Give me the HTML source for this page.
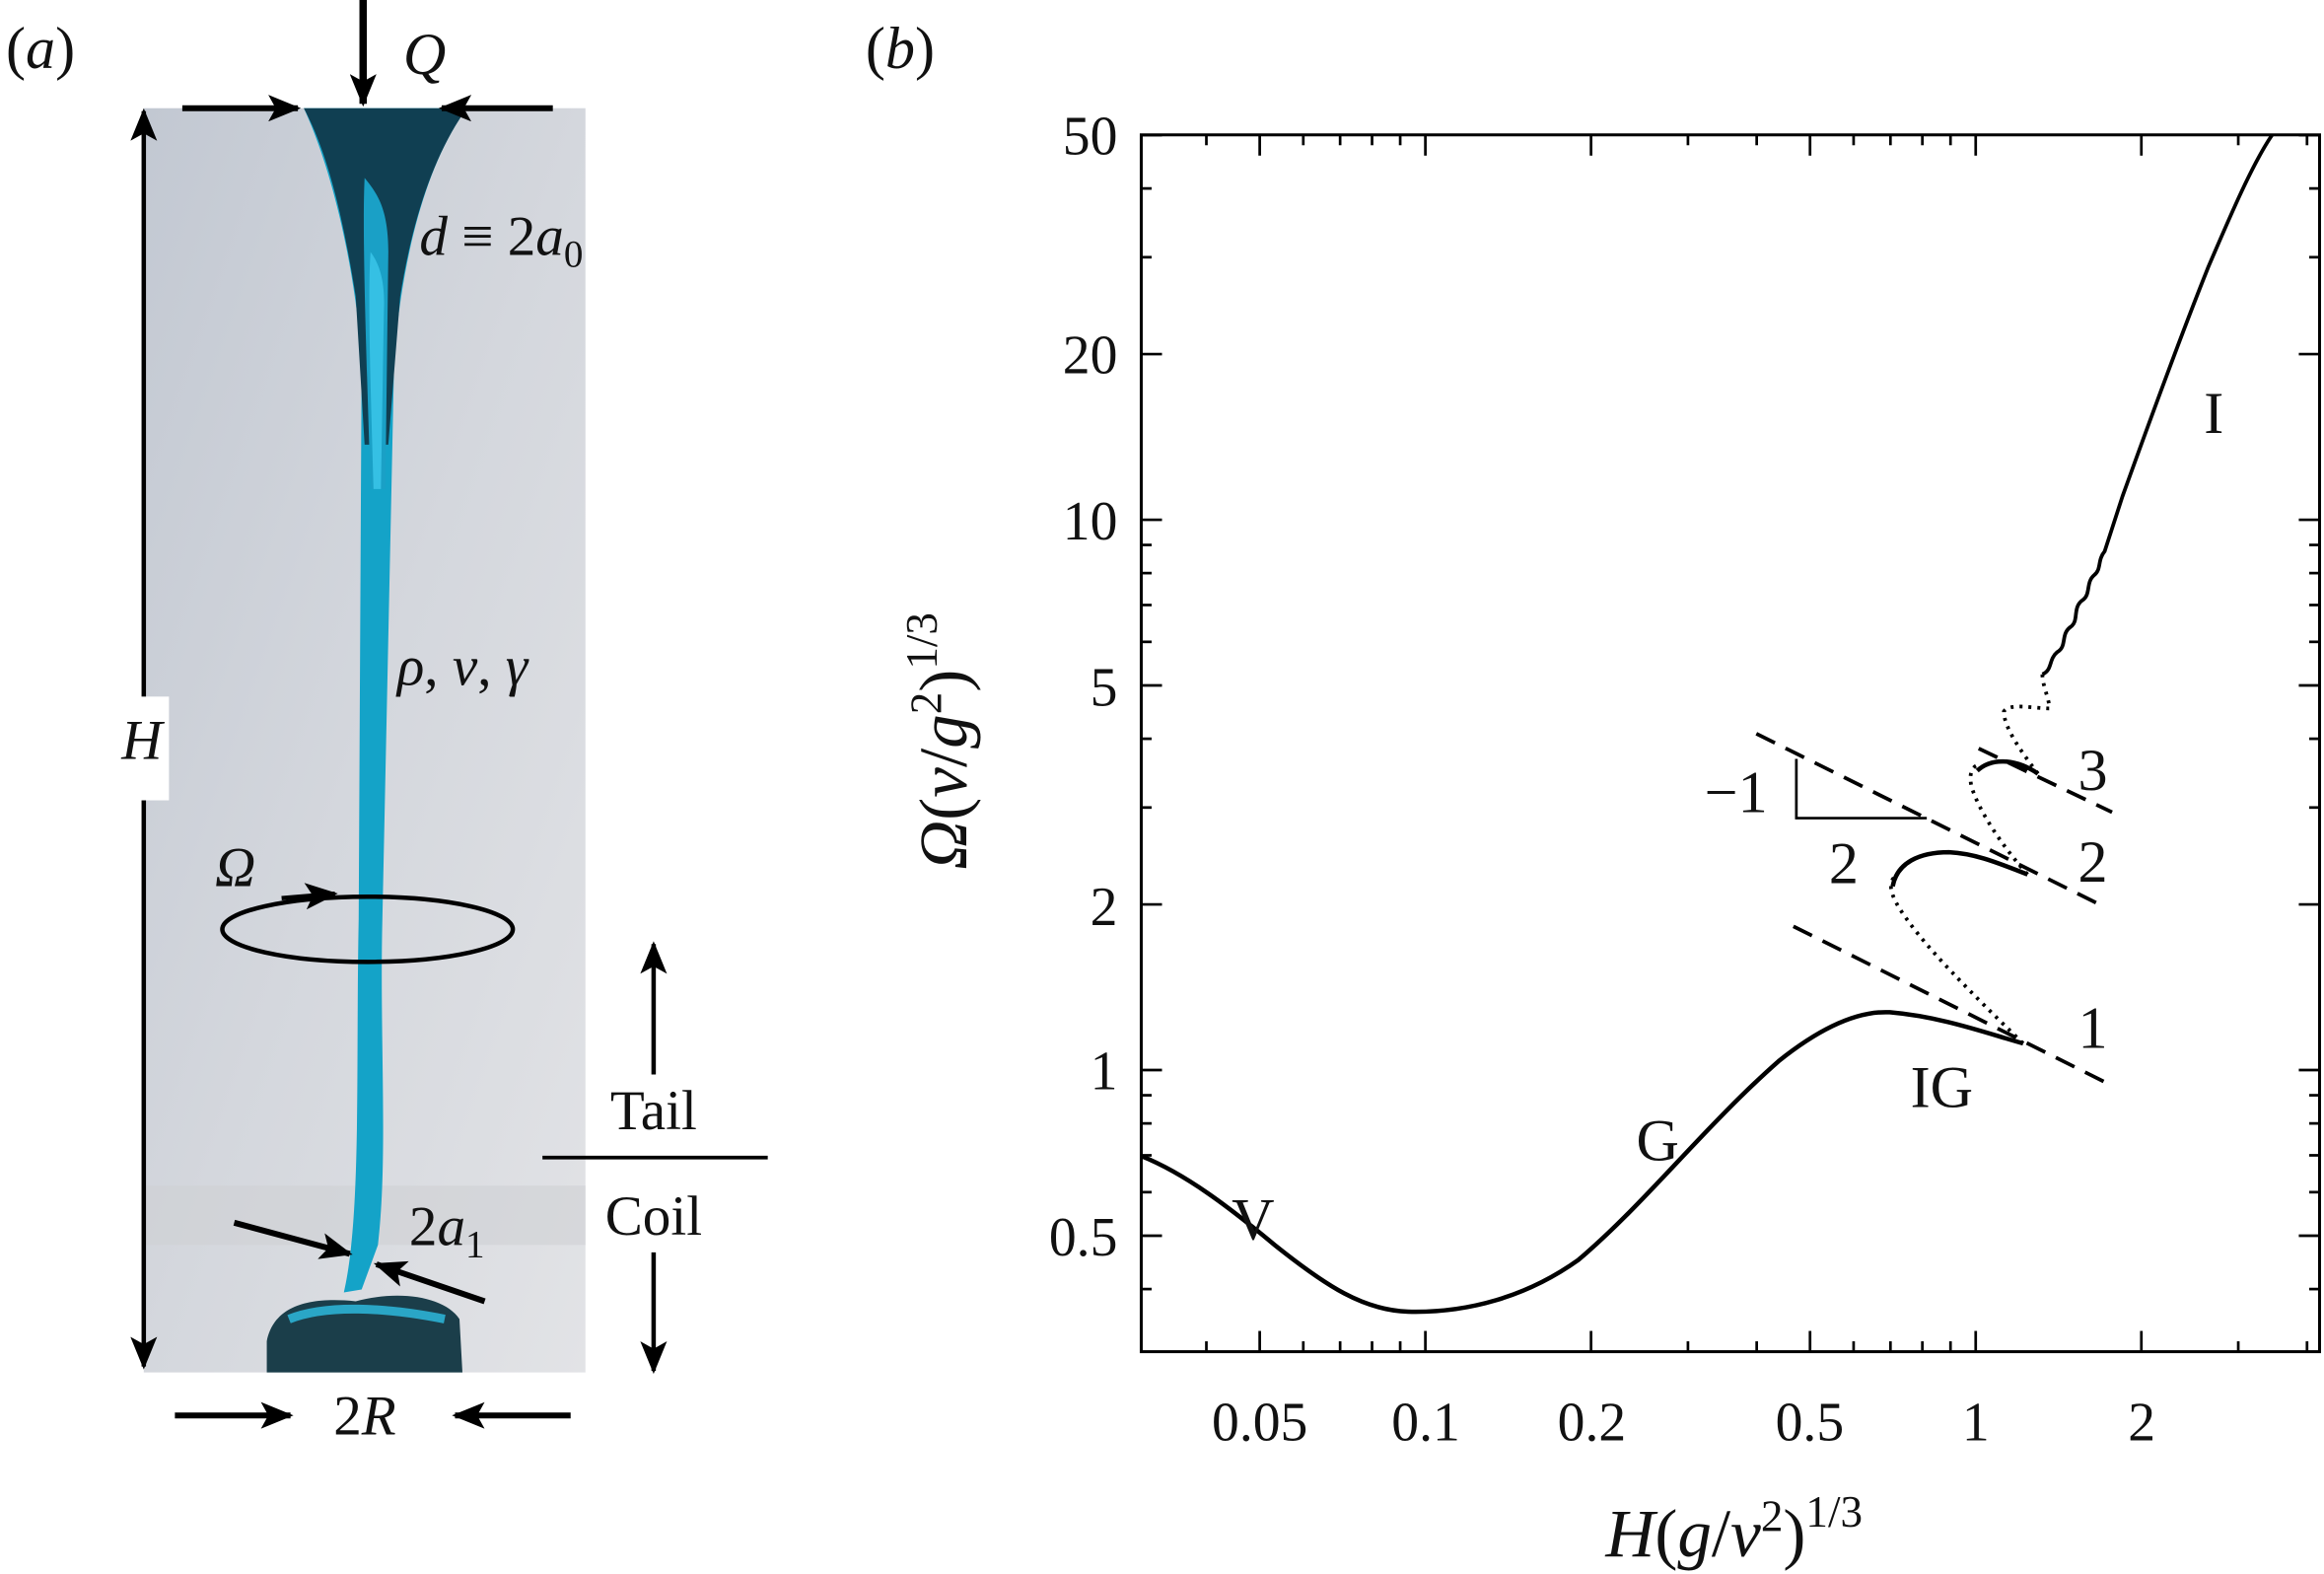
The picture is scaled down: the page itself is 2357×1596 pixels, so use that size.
<!DOCTYPE html>
<html><head><meta charset="utf-8"><style>
html,body{margin:0;padding:0;background:#fff;}
svg{display:block;}
text{font-family:"Liberation Serif",serif;fill:#111;}
</style></head><body>
<svg id="s" width="2357" height="1596" viewBox="0 0 1568 1062" preserveAspectRatio="none" xmlns="http://www.w3.org/2000/svg">
<defs>
<linearGradient id="bg" x1="0" y1="0" x2="1" y2="1">
<stop offset="0" stop-color="#c2c8d2"/><stop offset="0.5" stop-color="#d4d7dd"/><stop offset="1" stop-color="#e2e3e6"/></linearGradient>
<marker id="ah" markerWidth="22" markerHeight="18" refX="20" refY="9" orient="auto" markerUnits="userSpaceOnUse">
<path d="M0,0 L22,9 L0,18 L5,9 Z" fill="#000"/></marker>
</defs>
<text x="4" y="46" font-size="40">(<tspan font-style="italic">a</tspan>)</text>
<text x="584" y="46" font-size="40">(<tspan font-style="italic">b</tspan>)</text>
<!-- photo -->
<rect x="97" y="73" width="298" height="853" fill="url(#bg)"/>
<rect x="97" y="800" width="298" height="40" fill="#cfd1d4" opacity="0.6"/>
<path d="M205,73 L315,73 C288,110 272,170 266,240 L258,620 C256,700 262,780 255,840 L244,870 L232,872 C244,820 240,720 242,620 L244,240 C238,170 222,110 205,73 Z" fill="#14a3c8"/>
<path d="M205,73 L315,73 C292,105 278,150 270,200 L262,300 L246,300 L240,200 C232,150 222,105 205,73Z" fill="#103f52"/>
<path d="M246,120 C254,130 262,140 262,170 L260,330 L250,330 C248,260 244,160 246,120Z" fill="#1aa0c6"/>
<path d="M250,170 C256,178 260,190 259,210 L257,330 L252,330 C250,260 248,200 250,170Z" fill="#35c0e4"/>
<path d="M180,905 C185,880 210,875 240,878 C270,870 300,875 310,890 L312,926 L180,926Z" fill="#1b3e4a"/>
<path d="M195,890 C220,880 260,882 300,890" stroke="#2aa6c6" stroke-width="6" fill="none"/>
<!-- annotations a -->
<line x1="245" y1="0" x2="245" y2="70" stroke="#000" stroke-width="5" marker-end="url(#ah)"/>
<text x="272" y="50" font-size="40" font-style="italic">Q</text>
<line x1="123" y1="73" x2="201" y2="73" stroke="#000" stroke-width="4" marker-end="url(#ah)"/>
<line x1="373" y1="73" x2="298" y2="73" stroke="#000" stroke-width="4" marker-end="url(#ah)"/>
<line x1="97" y1="540" x2="97" y2="75" stroke="#000" stroke-width="3" marker-end="url(#ah)"/>
<line x1="97" y1="540" x2="97" y2="922" stroke="#000" stroke-width="3" marker-end="url(#ah)"/>
<rect x="80" y="470" width="34" height="70" fill="#fff"/>
<text x="82" y="512" font-size="38" font-style="italic">H</text>
<text x="283" y="172" font-size="38" font-style="italic">d <tspan font-style="normal">≡ 2</tspan>a<tspan font-size="26" dy="8" font-style="normal">0</tspan></text>
<text x="268" y="462" font-size="38" font-style="italic">ρ<tspan font-style="normal">, </tspan>ν<tspan font-style="normal">, </tspan>γ</text>
<text x="145" y="598" font-size="38" font-style="italic">Ω</text>
<ellipse cx="248" cy="627" rx="98" ry="22" fill="none" stroke="#000" stroke-width="3"/>
<line x1="190" y1="606" x2="226" y2="603" stroke="#000" stroke-width="3" marker-end="url(#ah)"/>
<line x1="158" y1="825" x2="236" y2="846" stroke="#000" stroke-width="4" marker-end="url(#ah)"/>
<line x1="327" y1="878" x2="254" y2="853" stroke="#000" stroke-width="4" marker-end="url(#ah)"/>
<text x="276" y="840" font-size="38">2<tspan font-style="italic">a</tspan><tspan font-size="26" dy="8">1</tspan></text>
<line x1="118" y1="955" x2="196" y2="955" stroke="#000" stroke-width="4" marker-end="url(#ah)"/>
<line x1="385" y1="955" x2="307" y2="955" stroke="#000" stroke-width="4" marker-end="url(#ah)"/>
<text x="225" y="968" font-size="38">2<tspan font-style="italic">R</tspan></text>
<line x1="441" y1="725" x2="441" y2="637" stroke="#000" stroke-width="3" marker-end="url(#ah)"/>
<line x1="441" y1="845" x2="441" y2="925" stroke="#000" stroke-width="3" marker-end="url(#ah)"/>
<text x="441" y="762" font-size="38" text-anchor="middle">Tail</text>
<line x1="366" y1="781" x2="518" y2="781" stroke="#000" stroke-width="2.5"/>
<text x="441" y="833" font-size="38" text-anchor="middle">Coil</text>
<!-- panel b -->
<rect x="770" y="91" width="795" height="821" fill="none" stroke="#000" stroke-width="2"/>
<g id="ticks" stroke="#000" stroke-width="1.8"></g>
<g font-size="37" text-anchor="end">
<text x="754" y="104">50</text><text x="754" y="252">20</text><text x="754" y="364">10</text>
<text x="754" y="476">5</text><text x="754" y="624">2</text><text x="754" y="735">1</text><text x="754" y="847">0.5</text>
</g>
<g font-size="37" text-anchor="middle">
<text x="850" y="972">0.05</text><text x="962" y="972">0.1</text><text x="1074" y="972">0.2</text>
<text x="1221" y="972">0.5</text><text x="1333" y="972">1</text><text x="1445" y="972">2</text>
</g>
<text x="1170" y="1050" font-size="46" text-anchor="middle"><tspan font-style="italic">H</tspan>(<tspan font-style="italic">g</tspan>/<tspan font-style="italic">ν</tspan><tspan font-size="30" dy="-17">2</tspan><tspan dy="17">)</tspan><tspan font-size="30" dy="-20">1/3</tspan></text>
<text transform="translate(652,500) rotate(-90)" font-size="46" text-anchor="middle"><tspan font-style="italic">Ω</tspan>(<tspan font-style="italic">ν</tspan>/<tspan font-style="italic">g</tspan><tspan font-size="30" dy="-17">2</tspan><tspan dy="17">)</tspan><tspan font-size="30" dy="-20">1/3</tspan></text>
<!-- curves -->
<g fill="none" stroke="#000">
<path stroke-width="3" d="M770,780 C800,792 830,815 860,840 C895,868 920,884 950,885 C990,886 1030,875 1065,850 C1110,812 1150,760 1200,716 C1230,692 1255,682 1275,683 C1310,686 1340,697 1365,704"/>
<path stroke-width="2.5" stroke-dasharray="2,4" d="M1365,704 C1330,670 1300,640 1285,618 C1275,604 1274,596 1278,592"/>
<path stroke-width="3" d="M1277,598 C1280,582 1295,575 1315,575 C1335,576 1352,584 1368,590"/>
<path stroke-width="2.5" stroke-dasharray="2,4" d="M1368,590 C1350,570 1334,545 1330,530 C1328,520 1332,516 1336,516"/>
<path stroke-width="3" d="M1334,520 C1345,510 1362,513 1375,522"/>
<path stroke-width="2.5" stroke-dasharray="2,4" d="M1375,522 C1362,505 1352,490 1352,480 C1356,474 1372,478 1383,478 C1382,470 1378,462 1378,455"/>
<path stroke-width="2.5" d="M1378,455 C1385,452 1382,445 1388,440 C1395,436 1390,428 1397,423 C1403,419 1398,410 1405,405 C1411,401 1407,393 1413,388 C1418,384 1415,378 1420,372 L1432,335 C1450,285 1470,230 1490,180 C1505,145 1520,110 1533,91"/>
<g stroke-width="2.5" stroke-dasharray="14,8">
<line x1="1210" y1="625" x2="1420" y2="730"/>
<line x1="1185" y1="495" x2="1420" y2="612"/>
<line x1="1335" y1="505" x2="1425" y2="548"/>
</g>
<path stroke-width="1.8" d="M1212,512 L1212,552 L1300,552"/>
</g>
<g font-size="40">
<text x="1150" y="548">−1</text><text x="1234" y="596">2</text>
<text x="1402" y="707">1</text><text x="1402" y="595">2</text><text x="1402" y="533">3</text>
<text x="1289" y="747">IG</text><text x="1104" y="783">G</text><text x="831" y="836">V</text><text x="1487" y="292">I</text>
</g>
</svg>
<script>
var g=document.getElementById('ticks'),s='';
function ln(a,b,c,d){s+='<line x1="'+a+'" y1="'+b+'" x2="'+c+'" y2="'+d+'"/>';}
var D=371.3;
for(var e=-1;e<=1;e++)for(var m=1;m<=9;m++){var v=m*Math.pow(10,e);if(v<0.305||v>50.01)continue;var y=722-Math.log10(v)*D;var L=(m==1||m==2||m==5)?14:7;ln(770,y,770+L,y);ln(1565,y,1565-L,y);}
for(var e=-2;e<=0;e++)for(var m=1;m<=9;m++){var v=m*Math.pow(10,e);if(v<0.0305||v>4.2)continue;var x=1333+Math.log10(v)*D;var L=(m==1||m==2||m==5)?14:7;ln(x,912,x,912-L);ln(x,91,x,91+L);}
g.innerHTML=s;
</script>
</body></html>
